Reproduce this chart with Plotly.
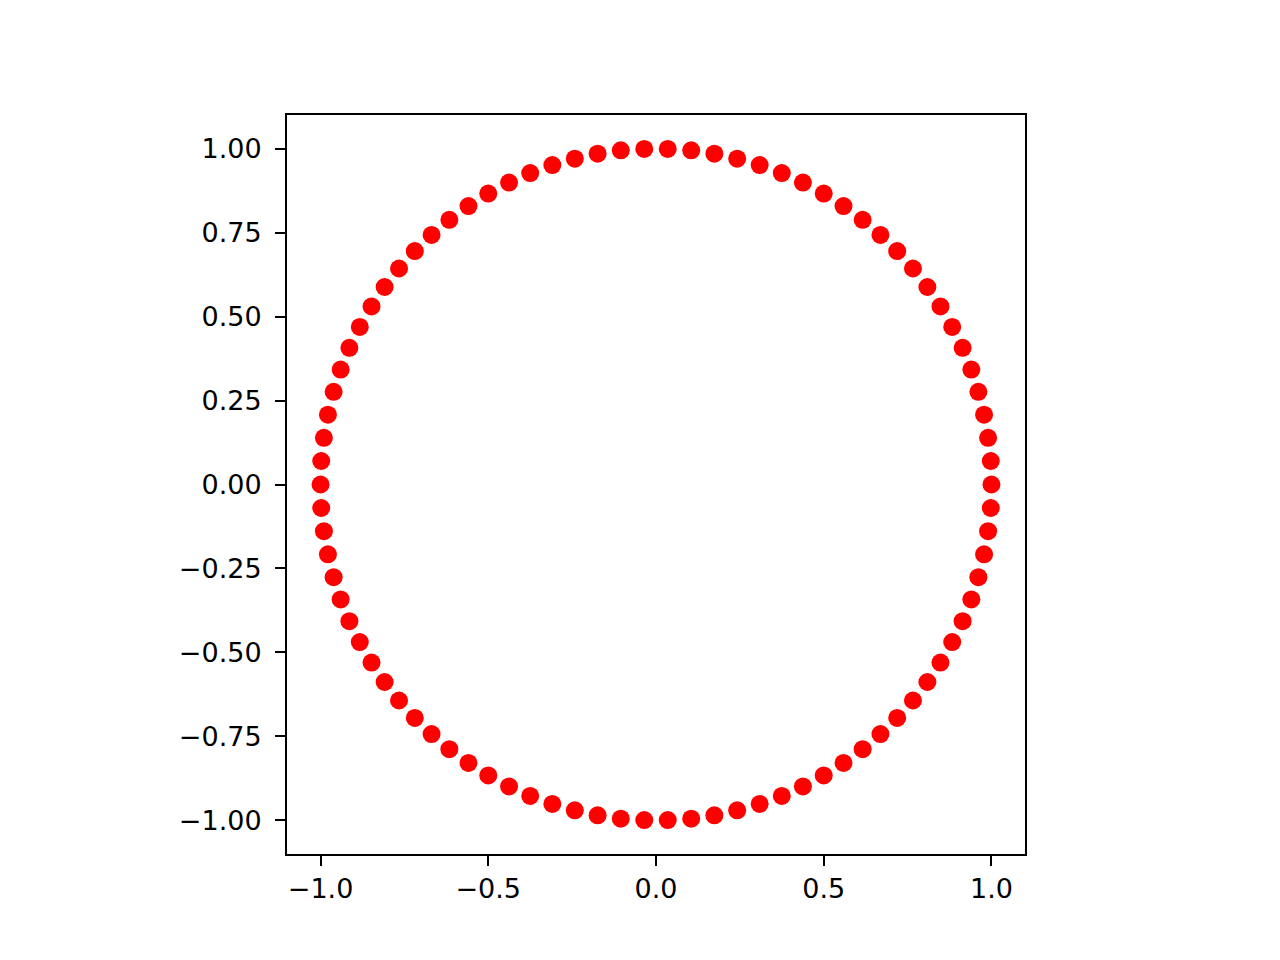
import plotly.graph_objects as go

# points, going round counter-clockwise from (1, 0)
x_vals = [
    1.000, 0.998, 0.990, 0.978, 0.961, 0.940, 0.914, 0.883, 0.848, 0.809,
    0.766, 0.719, 0.669, 0.616, 0.559, 0.500, 0.438, 0.375, 0.309, 0.242,
    0.174, 0.105, 0.035,
    -0.035, -0.105, -0.174, -0.242, -0.309, -0.375, -0.438, -0.500, -0.559,
    -0.616, -0.669, -0.719, -0.766, -0.809, -0.848, -0.883, -0.914, -0.940,
    -0.961, -0.978, -0.990, -0.998,
    -1.000,
    -0.998, -0.990, -0.978, -0.961, -0.940, -0.914, -0.883, -0.848, -0.809,
    -0.766, -0.719, -0.669, -0.616, -0.559, -0.500, -0.438, -0.375, -0.309,
    -0.242, -0.174, -0.105, -0.035,
    0.035, 0.105, 0.174, 0.242, 0.309, 0.375, 0.438, 0.500, 0.559,
    0.616, 0.669, 0.719, 0.766, 0.809, 0.848, 0.883, 0.914, 0.940,
    0.961, 0.978, 0.990, 0.998,
]
y_vals = [
    0.000, 0.070, 0.139, 0.208, 0.276, 0.342, 0.407, 0.469, 0.530, 0.588,
    0.643, 0.695, 0.743, 0.788, 0.829, 0.866, 0.899, 0.927, 0.951, 0.970,
    0.985, 0.995, 0.999,
    0.999, 0.995, 0.985, 0.970, 0.951, 0.927, 0.899, 0.866, 0.829,
    0.788, 0.743, 0.695, 0.643, 0.588, 0.530, 0.469, 0.407, 0.342,
    0.276, 0.208, 0.139, 0.070,
    0.000,
    -0.070, -0.139, -0.208, -0.276, -0.342, -0.407, -0.469, -0.530, -0.588,
    -0.643, -0.695, -0.743, -0.788, -0.829, -0.866, -0.899, -0.927, -0.951,
    -0.970, -0.985, -0.995, -0.999,
    -0.999, -0.995, -0.985, -0.970, -0.951, -0.927, -0.899, -0.866, -0.829,
    -0.788, -0.743, -0.695, -0.643, -0.588, -0.530, -0.469, -0.407, -0.342,
    -0.276, -0.208, -0.139, -0.070,
]

x_ticks = [-1.0, -0.5, 0.0, 0.5, 1.0]
x_tick_text = ["\u22121.0", "\u22120.5", "0.0", "0.5", "1.0"]
y_ticks = [-1.0, -0.75, -0.5, -0.25, 0.0, 0.25, 0.5, 0.75, 1.0]
y_tick_text = ["\u22121.00", "\u22120.75", "\u22120.50", "\u22120.25", "0.00",
               "0.25", "0.50", "0.75", "1.00"]

fig = go.Figure(
    go.Scatter(
        x=x_vals,
        y=y_vals,
        mode="markers",
        marker=dict(color="#ff0000", size=18),
    )
)

axis_style = dict(
    showline=True,
    linecolor="black",
    linewidth=2,
    mirror=True,
    showgrid=False,
    zeroline=False,
    ticks="outside",
    ticklen=10,
    tickwidth=2,
    tickcolor="black",
    tickfont=dict(family="DejaVu Sans", size=27, color="black"),
)

fig.update_xaxes(range=[-1.1, 1.1], tickvals=x_ticks, ticktext=x_tick_text,
                 ticklabelstandoff=0, **axis_style)
fig.update_yaxes(range=[-1.1, 1.1], tickvals=y_ticks, ticktext=y_tick_text,
                 ticklabelstandoff=8, **axis_style)

# the page body adds 8px, so the margins are pulled in by that much
fig.update_layout(
    width=1280,
    height=960,
    margin=dict(l=279, r=263, t=107, b=114),
    plot_bgcolor="white",
    paper_bgcolor="white",
    showlegend=False,
)

fig.write_html("out.html")
